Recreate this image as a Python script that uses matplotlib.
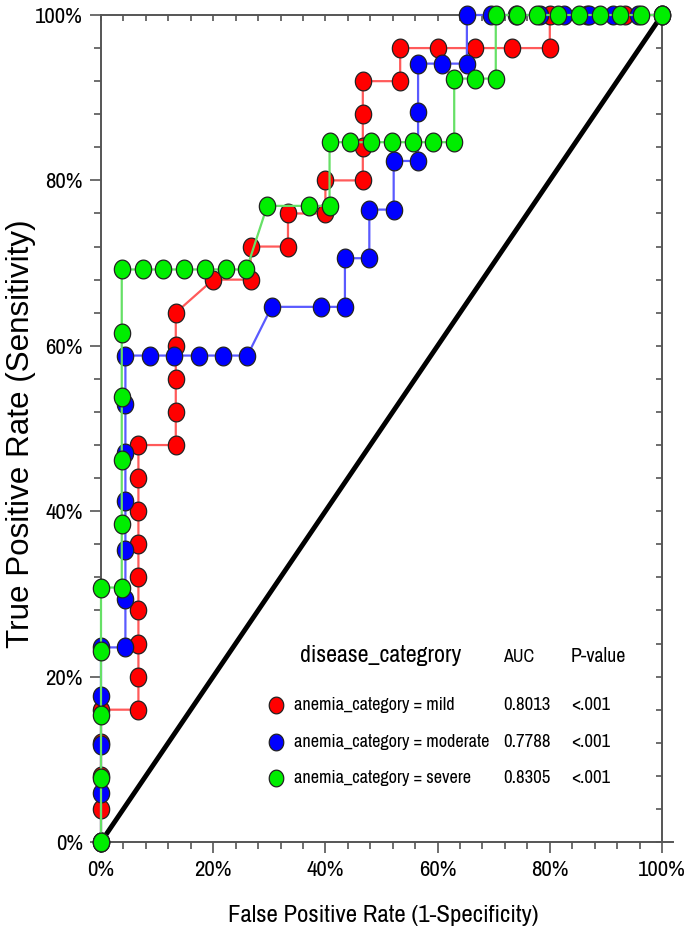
import matplotlib
matplotlib.use("Agg")
import matplotlib.pyplot as plt
import matplotlib.font_manager as fm
from matplotlib.path import Path
from matplotlib.ticker import MultipleLocator, FuncFormatter
import numpy as np

# ==== DATA (percent) ====
mild_fpr = [0, 0, 0, 0, 0, 6.67, 6.67, 6.67, 6.67, 6.67, 6.67, 6.67, 6.67, 6.67,
            13.33, 13.33, 13.33, 13.33, 13.33, 20, 26.67, 26.67, 33.33, 33.33, 40, 40,
            46.67, 46.67, 46.67, 46.67, 53.33, 53.33, 60, 66.67, 73.33, 80, 80,
            86.67, 93.33, 100]
mild_tpr = [0, 4, 8, 12, 16, 16, 20, 24, 28, 32, 36, 40, 44, 48,
            48, 52, 56, 60, 64, 68, 68, 72, 72, 76, 76, 80,
            80, 84, 88, 92, 92, 96, 96, 96, 96, 96, 100,
            100, 100, 100]

moderate_fpr = [0, 0, 0, 0, 0, 4.35, 4.35, 4.35, 4.35, 4.35, 4.35, 4.35,
                8.70, 13.04, 17.39, 21.74, 26.09, 30.43, 39.13, 43.48, 43.48,
                47.83, 47.83, 52.17, 52.17, 56.52, 56.52, 56.52, 60.87, 65.22, 65.22,
                69.57, 73.91, 78.26, 82.61, 86.96, 91.30, 95.65, 100]
moderate_tpr = [0, 5.88, 11.76, 17.65, 23.53, 23.53, 29.41, 35.29, 41.18, 47.06, 52.94, 58.82,
                58.82, 58.82, 58.82, 58.82, 58.82, 64.71, 64.71, 64.71, 70.59,
                70.59, 76.47, 76.47, 82.35, 82.35, 88.24, 94.12, 94.12, 94.12, 100,
                100, 100, 100, 100, 100, 100, 100, 100]

severe_fpr = [0, 0, 0, 0, 0, 3.70, 3.70, 3.70, 3.70, 3.70, 3.70,
              7.41, 11.11, 14.81, 18.52, 22.22, 25.93, 29.63, 37.04, 40.74, 40.74,
              44.44, 48.15, 51.85, 55.56, 59.26, 62.96, 62.96, 66.67, 70.37, 70.37,
              74.07, 77.78, 81.48, 85.19, 88.89, 92.59, 96.30, 100]
severe_tpr = [0, 7.69, 15.38, 23.08, 30.77, 30.77, 38.46, 46.15, 53.85, 61.54, 69.23,
              69.23, 69.23, 69.23, 69.23, 69.23, 69.23, 76.92, 76.92, 76.92, 84.62,
              84.62, 84.62, 84.62, 84.62, 84.62, 84.62, 92.31, 92.31, 92.31, 100,
              100, 100, 100, 100, 100, 100, 100, 100]

labels = ["anemia_category = mild", "anemia_category = moderate", "anemia_category = severe"]
auc = ["0.8013", "0.7788", "0.8305"]
pvals = ["<.001", "<.001", "<.001"]

face_colors = ["#ff0000", "#0000ff", "#00ee00"]
line_colors = ["#ff5a5a", "#5a5aff", "#66e066"]

# --- fonts: narrow face if we have one, else shrink Liberation Sans ---
installed = {f.name for f in fm.fontManager.ttflist}
if "Archivo Narrow" in installed:
    narrow, k = "Archivo Narrow", 1.0
elif "Liberation Sans Narrow" in installed:
    narrow, k = "Liberation Sans Narrow", 0.95
else:
    narrow, k = "Liberation Sans", 0.82
regular = "Liberation Sans"

W, H = 685, 944
fig = plt.figure(figsize=(W / 100, H / 100), dpi=100)
ax = fig.add_axes([101 / W, 1 - 842 / H, 561 / W, 827 / H])


def fx(px):
    return px / W


def fy(py):
    return 1 - py / H


# ellipse marker (the source image is a bit stretched vertically)
t = np.linspace(0, 2 * np.pi, 60)
ell = Path(np.column_stack([0.87 * np.cos(t), np.sin(t)]), closed=True)

# diagonal reference
ax.plot([0, 100], [0, 100], color="black", lw=3.5, zorder=2, solid_capstyle="round")

series = [(mild_fpr, mild_tpr), (moderate_fpr, moderate_tpr), (severe_fpr, severe_tpr)]
for i, (xs, ys) in enumerate(series):
    ax.plot(xs, ys, color=line_colors[i], lw=1.6, zorder=3 + i, clip_on=False)
    ax.plot(xs, ys, linestyle="none", marker=ell, markersize=13.5,
            markerfacecolor=face_colors[i], markeredgecolor="#222222",
            markeredgewidth=0.9, zorder=3.5 + i, clip_on=False)

ax.set_xlim(0, 100)
ax.set_ylim(0, 100)

for s in ["left", "bottom", "top", "right"]:
    ax.spines[s].set_color("#555555")
    ax.spines[s].set_linewidth(1.4)
ax.spines["bottom"].set_bounds(0, 102)

ax.xaxis.set_major_locator(MultipleLocator(20))
ax.xaxis.set_minor_locator(MultipleLocator(4))
ax.yaxis.set_major_locator(MultipleLocator(20))
ax.yaxis.set_minor_locator(MultipleLocator(4))
pct = FuncFormatter(lambda v, p: f"{int(round(v))}%")
ax.xaxis.set_major_formatter(pct)
ax.yaxis.set_major_formatter(pct)

ax.tick_params(axis="both", which="major", direction="out", length=8, width=1.2,
               color="#555555", labelsize=16.5 * k, pad=5)
ax.tick_params(axis="both", which="minor", direction="out", length=5, width=1.2,
               color="#555555")
ax.tick_params(axis="x", which="both", top=True, labeltop=False)
ax.tick_params(axis="y", which="both", right=True, labelright=False)
for tl in ax.get_xticklabels() + ax.get_yticklabels():
    tl.set_family(narrow)

# top/right ticks point inward
for tk in ax.xaxis.get_major_ticks() + ax.xaxis.get_minor_ticks():
    tk.tick2line.set_marker(3)
    tk.tick2line.set_markersize(4)
for tk in ax.yaxis.get_major_ticks() + ax.yaxis.get_minor_ticks():
    tk.tick2line.set_marker(0)
    tk.tick2line.set_markersize(4)

fig.text(fx(21), fy(434), "True Positive Rate (Sensitivity)", rotation=90,
         ha="center", va="center", fontsize=22.6, family=regular)
fig.text(fx(383), fy(915), "False Positive Rate (1-Specificity)",
         ha="center", va="center", fontsize=17.9 * k, family=narrow)

# --- legend table ---
fig.text(fx(300), fy(655), "disease_categrory", ha="left", va="center",
         fontsize=17.2 * k, family=narrow)
fig.text(fx(503), fy(657), "AUC", ha="left", va="center", fontsize=13 * k, family=narrow)
fig.text(fx(571), fy(657), "P-value", ha="left", va="center", fontsize=14.3 * k, family=narrow)

row_y = [705, 742, 778]
for i in range(3):
    fig.lines.append(plt.Line2D([fx(276)], [fy(row_y[i])], transform=fig.transFigure,
                                linestyle="none", marker=ell, markersize=12,
                                markerfacecolor=face_colors[i], markeredgecolor="#222222",
                                markeredgewidth=0.9))
    fig.text(fx(294), fy(row_y[i]), labels[i], ha="left", va="center",
             fontsize=13.1 * k, family=narrow)
    fig.text(fx(503), fy(row_y[i]), auc[i], ha="left", va="center",
             fontsize=13.5 * k, family=narrow)
    fig.text(fx(571), fy(row_y[i]), pvals[i], ha="left", va="center",
             fontsize=13.5 * k, family=narrow)

fig.savefig("out.png", dpi=100)
